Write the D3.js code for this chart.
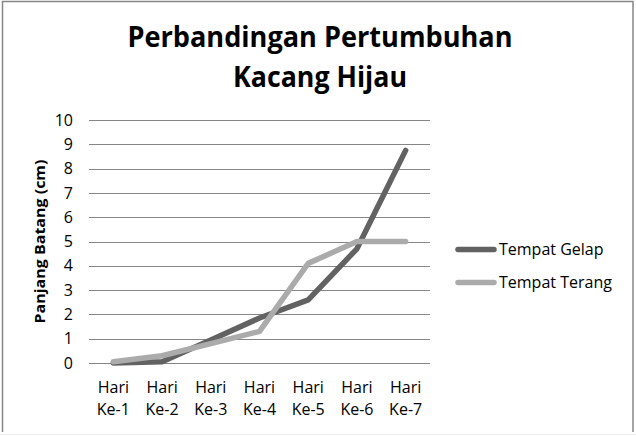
<!DOCTYPE html>
<html>
<head>
<meta charset="utf-8">
<script src="https://cdn.jsdelivr.net/npm/d3@7"></script>
<style>
  body { margin: 0; background: #fff; }
  text { font-family: "Open Sans", "Noto Sans", sans-serif; fill: #000; }
</style>
</head>
<body>
<div id="root"></div>
<script>
const days = ["Ke-1", "Ke-2", "Ke-3", "Ke-4", "Ke-5", "Ke-6", "Ke-7"];
const gelap = [0, 0.05, 0.95, 1.85, 2.6, 4.7, 8.75];
const terang = [0.05, 0.3, 0.8, 1.3, 4.1, 5.0, 5.0];
const yTicks = [0, 1, 2, 3, 4, 5, 6, 7, 8, 9, 10];
const seriesNames = ["Tempat Gelap", "Tempat Terang"];
const seriesColors = ["#626262", "#ababab"];

const w = 636;
const h = 436;
const plotLeft = 89, plotRight = 430, plotTop = 120, plotBottom = 363;

const svg = d3.select("#root")
  .append("svg")
  .attr("width", w)
  .attr("height", h);

// chart border (bottom edge is cut off in the picture)
svg.append("path")
  .attr("d", "M2.5,432 V1.5 H633 V432")
  .attr("fill", "none")
  .attr("stroke", "#868686")
  .attr("stroke-width", 1.5);
svg.append("line")
  .attr("x1", 0)
  .attr("x2", w)
  .attr("y1", 434.5)
  .attr("y2", 434.5)
  .attr("stroke", "#ececec");

// title
const titleLines = [["Perbandingan Pertumbuhan", 47, 385], ["Kacang Hijau", 87, 174]];
svg.selectAll(".title")
  .data(titleLines)
  .enter()
  .append("text")
  .attr("class", "title")
  .attr("x", 320)
  .attr("y", d => d[1])
  .attr("text-anchor", "middle")
  .attr("font-size", 28)
  .attr("font-weight", "bold")
  .attr("textLength", d => d[2])
  .attr("lengthAdjust", "spacingAndGlyphs")
  .text(d => d[0]);

const xScale = d3.scaleBand()
  .domain(days)
  .range([plotLeft, plotRight]);

const yScale = d3.scaleLinear()
  .domain([0, 10])
  .range([plotBottom, plotTop]);

// gridlines
svg.append("g")
  .selectAll("line")
  .data(yTicks)
  .enter()
  .append("line")
  .attr("x1", plotLeft)
  .attr("x2", plotRight)
  .attr("y1", d => Math.round(yScale(d)) + 0.5)
  .attr("y2", d => Math.round(yScale(d)) + 0.5)
  .attr("stroke", "#868686")
  .attr("stroke-width", 1);

const yAxis = d3.axisLeft(yScale)
  .tickValues(yTicks)
  .tickSize(0)
  .tickPadding(0);

const yg = svg.append("g")
  .attr("transform", `translate(${plotLeft - 16}, 0)`)
  .call(yAxis);
yg.select(".domain").remove();
yg.selectAll("text")
  .attr("font-size", 16)
  .attr("fill", "#000")
  .style("font-family", "'Open Sans', sans-serif");

// x labels
const xg = svg.append("g");
xg.selectAll(".hari")
  .data(days)
  .enter()
  .append("text")
  .attr("class", "hari")
  .attr("x", d => xScale(d) + xScale.bandwidth() / 2)
  .attr("y", 393)
  .attr("text-anchor", "middle")
  .attr("font-size", 16)
  .text("Hari");
xg.selectAll(".ke")
  .data(days)
  .enter()
  .append("text")
  .attr("class", "ke")
  .attr("x", d => xScale(d) + xScale.bandwidth() / 2)
  .attr("y", 415)
  .attr("text-anchor", "middle")
  .attr("font-size", 16)
  .text(d => d);

// y axis title
svg.append("text")
  .attr("transform", `translate(45, ${(plotTop + plotBottom) / 2}) rotate(-90)`)
  .attr("text-anchor", "middle")
  .attr("font-size", 14)
  .attr("font-weight", "bold")
  .attr("textLength", 164)
  .attr("lengthAdjust", "spacingAndGlyphs")
  .text("Panjang Batang (cm)");

// lines
const line = d3.line()
  .x((d, i) => xScale(days[i]) + xScale.bandwidth() / 2)
  .y(d => yScale(d));

[gelap, terang].forEach((s, i) => {
  svg.append("path")
    .datum(s)
    .attr("d", line)
    .attr("fill", "none")
    .attr("stroke", seriesColors[i])
    .attr("stroke-width", 5.5)
    .attr("stroke-linejoin", "round")
    .attr("stroke-linecap", "round");
});

// legend
const legend = svg.append("g");
legend.selectAll("line")
  .data(seriesNames)
  .enter()
  .append("line")
  .attr("x1", 458)
  .attr("x2", 494)
  .attr("y1", (d, i) => 249.5 + 33 * i)
  .attr("y2", (d, i) => 249.5 + 33 * i)
  .attr("stroke", (d, i) => seriesColors[i])
  .attr("stroke-width", 5.5)
  .attr("stroke-linecap", "round");
legend.selectAll("text")
  .data(seriesNames)
  .enter()
  .append("text")
  .attr("x", 499)
  .attr("y", (d, i) => 255 + 33 * i)
  .attr("font-size", 16)
  .text(d => d);
</script>
</body>
</html>
